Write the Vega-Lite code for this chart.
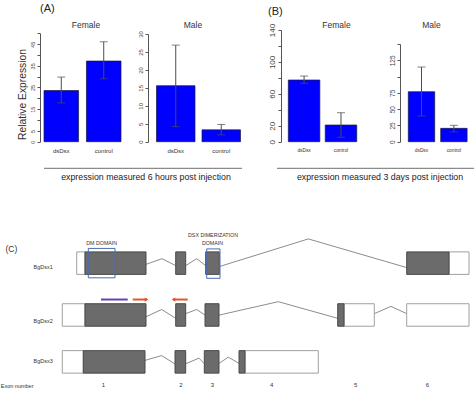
{
 "$schema": "https://vega.github.io/schema/vega-lite/v6.json",
 "background": "white",
 "autosize": "none",
 "padding": {"left": 44, "top": 30, "right": 430, "bottom": 367},
 "config": {
  "font": "Liberation Sans",
  "view": {"stroke": null},
  "title": {"fontWeight": "normal", "color": "#333", "font": "Liberation Sans"},
  "axis": {"labelFont": "Liberation Sans", "titleFont": "Liberation Sans", "labelOverlap": false, "labelSeparation": 0, "labelBound": false, "labelFlush": false}
 },
 "datasets": {
  "bars": [
   {"panel": "A-F", "treatment": "dsDsx", "mean": 23.6, "lo": 17.9, "hi": 29.8},
   {"panel": "A-F", "treatment": "control", "mean": 37.2, "lo": 29.0, "hi": 46.1},
   {"panel": "A-M", "treatment": "dsDsx", "mean": 15.6, "lo": 4.2, "hi": 26.9},
   {"panel": "A-M", "treatment": "control", "mean": 3.3, "lo": 1.9, "hi": 4.8},
   {"panel": "B-F", "treatment": "dsDsx", "mean": 77.3, "lo": 73.2, "hi": 82.3},
   {"panel": "B-F", "treatment": "control", "mean": 20.9, "lo": 5.5, "hi": 36.3},
   {"panel": "B-M", "treatment": "dsDsx", "mean": 76.8, "lo": 39.5, "hi": 114.7},
   {"panel": "B-M", "treatment": "control", "mean": 20.5, "lo": 15.0, "hi": 25.2}
  ],
  "exons": [
   {"transcript": "BgDsx1", "lane": 0, "start": 32.7, "end": 41, "kind": "UTR"},
   {"transcript": "BgDsx1", "lane": 0, "start": 405, "end": 425, "kind": "UTR"},
   {"transcript": "BgDsx2", "lane": 1.05, "start": 18.3, "end": 41, "kind": "UTR"},
   {"transcript": "BgDsx2", "lane": 1.05, "start": 300, "end": 330.3, "kind": "UTR"},
   {"transcript": "BgDsx2", "lane": 1.05, "start": 362.7, "end": 425, "kind": "UTR"},
   {"transcript": "BgDsx3", "lane": 2, "start": 18.3, "end": 39.3, "kind": "UTR"},
   {"transcript": "BgDsx3", "lane": 2, "start": 201, "end": 274.3, "kind": "UTR"},
   {"transcript": "BgDsx1", "lane": 0, "start": 41, "end": 102, "kind": "coding"},
   {"transcript": "BgDsx1", "lane": 0, "start": 131.7, "end": 141.7, "kind": "coding"},
   {"transcript": "BgDsx1", "lane": 0, "start": 161.7, "end": 175.3, "kind": "coding"},
   {"transcript": "BgDsx1", "lane": 0, "start": 362.7, "end": 405, "kind": "coding"},
   {"transcript": "BgDsx2", "lane": 1.05, "start": 41, "end": 102, "kind": "coding"},
   {"transcript": "BgDsx2", "lane": 1.05, "start": 131.7, "end": 141.7, "kind": "coding"},
   {"transcript": "BgDsx2", "lane": 1.05, "start": 161, "end": 175, "kind": "coding"},
   {"transcript": "BgDsx2", "lane": 1.05, "start": 293.7, "end": 300, "kind": "coding"},
   {"transcript": "BgDsx3", "lane": 2, "start": 39.3, "end": 101, "kind": "coding"},
   {"transcript": "BgDsx3", "lane": 2, "start": 131, "end": 141.7, "kind": "coding"},
   {"transcript": "BgDsx3", "lane": 2, "start": 160.3, "end": 175, "kind": "coding"},
   {"transcript": "BgDsx3", "lane": 2, "start": 195, "end": 201, "kind": "coding"}
  ],
  "introns": [
   {"intron": "D1-1", "pos": 102, "lane": 0.025}, {"intron": "D1-1", "pos": 118, "lane": -0.09}, {"intron": "D1-1", "pos": 131.7, "lane": 0.05},
   {"intron": "D1-2", "pos": 141.7, "lane": 0.05}, {"intron": "D1-2", "pos": 152.7, "lane": -0.09}, {"intron": "D1-2", "pos": 161.7, "lane": 0.05},
   {"intron": "D1-3", "pos": 175.3, "lane": 0.07}, {"intron": "D1-3", "pos": 264.3, "lane": -0.49}, {"intron": "D1-3", "pos": 362.7, "lane": 0.09},
   {"intron": "D2-1", "pos": 102, "lane": 1.086}, {"intron": "D2-1", "pos": 117.7, "lane": 0.939}, {"intron": "D2-1", "pos": 131.7, "lane": 1.118},
   {"intron": "D2-2", "pos": 141.7, "lane": 1.023}, {"intron": "D2-2", "pos": 152.7, "lane": 0.939}, {"intron": "D2-2", "pos": 161, "lane": 1.053},
   {"intron": "D2-3", "pos": 175, "lane": 1.053}, {"intron": "D2-3", "pos": 234.3, "lane": 0.781}, {"intron": "D2-3", "pos": 293.7, "lane": 1.118},
   {"intron": "D2-4", "pos": 330.3, "lane": 1.023}, {"intron": "D2-4", "pos": 347, "lane": 0.876}, {"intron": "D2-4", "pos": 362.7, "lane": 1.023},
   {"intron": "D3-1", "pos": 101, "lane": 1.97}, {"intron": "D3-1", "pos": 117.7, "lane": 1.872}, {"intron": "D3-1", "pos": 131, "lane": 2.044},
   {"intron": "D3-2", "pos": 141.7, "lane": 2.038}, {"intron": "D3-2", "pos": 155, "lane": 1.924}, {"intron": "D3-2", "pos": 160.3, "lane": 2.038},
   {"intron": "D3-3", "pos": 175, "lane": 2.03}, {"intron": "D3-3", "pos": 184.3, "lane": 1.905}, {"intron": "D3-3", "pos": 195, "lane": 2.03}
  ],
  "domains": [
   {"domain": "DM", "start": 44.3, "end": 71, "lane": 0},
   {"domain": "DSX dimerization", "start": 162.7, "end": 176, "lane": 0.01}
  ],
  "domainLabels": [
   {"text": "DM DOMAIN", "pos": 57.7, "lane": -0.406},
   {"text": "DSX DIMERIZATION", "pos": 169, "lane": -0.566},
   {"text": "DOMAIN", "pos": 168.5, "lane": -0.406}
  ],
  "primers": [
   {"primer": "probe", "start": 57, "end": 83.7, "lane": 0.737},
   {"primer": "forward", "start": 88.7, "end": 103, "lane": 0.737, "head": 102.5, "dir": "right"},
   {"primer": "reverse", "start": 129, "end": 143.7, "lane": 0.737, "head": 129.5, "dir": "left"}
  ],
  "exonNumbers": [
   {"exon": "1", "pos": 59.3, "lane": 2.476},
   {"exon": "2", "pos": 137, "lane": 2.476},
   {"exon": "3", "pos": 168.3, "lane": 2.476},
   {"exon": "4", "pos": 227.7, "lane": 2.476},
   {"exon": "5", "pos": 311.7, "lane": 2.476},
   {"exon": "6", "pos": 383.3, "lane": 2.476}
  ]
 },
 "bounds": "flush",
 "spacing": 198.5,
 "vconcat": [
  {
   "bounds": "flush",
   "spacing": 233,
   "hconcat": [
    {
     "bounds": "flush",
     "spacing": 0,
     "vconcat": [
      {
       "bounds": "flush",
       "spacing": 34,
       "hconcat": [
        {
         "width": 77, "height": 111.7,
         "title": {"text": "Female", "fontSize": 8.5, "baseline": "alphabetic", "frame": "group", "offset": -6.5, "dx": 3.5},
         "data": {"name": "bars"},
         "transform": [{"filter": "datum.panel == 'A-F'"}],
         "encoding": {
          "x": {"field": "treatment", "type": "nominal", "sort": ["dsDsx", "control"], "scale": {"paddingInner": 0.186, "paddingOuter": 0},
                "axis": {"title": null, "domain": false, "ticks": false, "labelAngle": 0, "labelFontSize": 6, "labelPadding": 6, "labelColor": "#333"}}
         },
         "layer": [
          {"mark": {"type": "bar", "fill": "#0000ff", "stroke": "#1a1a3a", "strokeWidth": 0.7},
           "encoding": {"y": {"field": "mean", "type": "quantitative", "title": "Relative Expression",
             "scale": {"domain": [0, 51.52], "nice": false},
             "axis": {"values": [0, 5, 10, 15, 20, 25, 30, 35, 40, 45, 50], "labelExpr": "(datum.value == 0 || datum.value % 10 == 5) ? datum.label : ''",
                      "labelAngle": -90, "labelAlign": "center", "labelBaseline": "bottom", "labelFontSize": 5.5, "labelPadding": 2, "labelColor": "#444",
                      "labelFlush": false, "labelOverlap": false, "labelBound": false, "tickSize": 3, "tickColor": "#555", "domainColor": "#555", "offset": 4, "domainDash": [108.4, 20],
                      "grid": false, "titleFontSize": 10.3, "titleFontWeight": "normal", "titleColor": "#333", "titlePadding": 3, "titleY": 64}}}},
          {"mark": {"type": "rule", "color": "#4d4d4d", "strokeWidth": 1},
           "encoding": {"y": {"field": "lo", "type": "quantitative", "title": "Relative Expression",
             "axis": {"values": [0, 5, 10, 15, 20, 25, 30, 35, 40, 45, 50], "labelExpr": "(datum.value == 0 || datum.value % 10 == 5) ? datum.label : ''",
                      "labelAngle": -90, "labelAlign": "center", "labelBaseline": "bottom", "labelFontSize": 5.5, "labelPadding": 2, "labelColor": "#444",
                      "labelFlush": false, "labelOverlap": false, "labelBound": false, "tickSize": 3, "tickColor": "#555", "domainColor": "#555", "offset": 4, "domainDash": [108.4, 20],
                      "grid": false, "titleFontSize": 10.3, "titleFontWeight": "normal", "titleColor": "#333", "titlePadding": 3, "titleY": 64}}, "y2": {"field": "hi"}}},
          {"mark": {"type": "tick", "color": "#4d4d4d", "size": 8, "thickness": 1},
           "encoding": {"y": {"field": "lo", "type": "quantitative", "title": "Relative Expression",
             "axis": {"values": [0, 5, 10, 15, 20, 25, 30, 35, 40, 45, 50], "labelExpr": "(datum.value == 0 || datum.value % 10 == 5) ? datum.label : ''",
                      "labelAngle": -90, "labelAlign": "center", "labelBaseline": "bottom", "labelFontSize": 5.5, "labelPadding": 2, "labelColor": "#444",
                      "labelFlush": false, "labelOverlap": false, "labelBound": false, "tickSize": 3, "tickColor": "#555", "domainColor": "#555", "offset": 4, "domainDash": [108.4, 20],
                      "grid": false, "titleFontSize": 10.3, "titleFontWeight": "normal", "titleColor": "#333", "titlePadding": 3, "titleY": 64}}}},
          {"mark": {"type": "tick", "color": "#4d4d4d", "size": 8, "thickness": 1},
           "encoding": {"y": {"field": "hi", "type": "quantitative", "title": "Relative Expression",
             "axis": {"values": [0, 5, 10, 15, 20, 25, 30, 35, 40, 45, 50], "labelExpr": "(datum.value == 0 || datum.value % 10 == 5) ? datum.label : ''",
                      "labelAngle": -90, "labelAlign": "center", "labelBaseline": "bottom", "labelFontSize": 5.5, "labelPadding": 2, "labelColor": "#444",
                      "labelFlush": false, "labelOverlap": false, "labelBound": false, "tickSize": 3, "tickColor": "#555", "domainColor": "#555", "offset": 4, "domainDash": [108.4, 20],
                      "grid": false, "titleFontSize": 10.3, "titleFontWeight": "normal", "titleColor": "#333", "titlePadding": 3, "titleY": 64}}}}
         ]
        },
        {
         "width": 87, "height": 111.7,
         "title": {"text": "Male", "fontSize": 8.5, "baseline": "alphabetic", "frame": "group", "offset": -6.5, "dx": -5.5},
         "data": {"name": "bars"},
         "transform": [{"filter": "datum.panel == 'A-M'"}],
         "encoding": {
          "x": {"field": "treatment", "type": "nominal", "sort": ["dsDsx", "control"], "scale": {"paddingInner": 0.154, "paddingOuter": 0.033},
                "axis": {"title": null, "domain": false, "ticks": false, "labelAngle": 0, "labelFontSize": 6, "labelPadding": 6, "labelColor": "#333"}}
         },
         "layer": [
          {"mark": {"type": "bar", "fill": "#0000ff", "stroke": "#1a1a3a", "strokeWidth": 0.7},
           "encoding": {"y": {"field": "mean", "type": "quantitative", "title": null,
             "scale": {"domain": [0, 31.11], "nice": false},
             "axis": {"values": [0, 5, 10, 15, 20, 25, 30], "labelAngle": -90, "labelAlign": "center", "labelBaseline": "bottom", "labelFontSize": 6, "labelPadding": 2, "labelColor": "#444",
                      "labelFlush": false, "labelOverlap": false, "labelBound": false, "tickSize": 3, "tickColor": "#555", "domainColor": "#555", "offset": 7, "domainDash": [107.7, 20], "grid": false}}}},
          {"mark": {"type": "rule", "color": "#4d4d4d", "strokeWidth": 1},
           "encoding": {"y": {"field": "lo", "type": "quantitative", "title": null,
             "axis": {"values": [0, 5, 10, 15, 20, 25, 30], "labelAngle": -90, "labelAlign": "center", "labelBaseline": "bottom", "labelFontSize": 6, "labelPadding": 2, "labelColor": "#444",
                      "labelFlush": false, "labelOverlap": false, "labelBound": false, "tickSize": 3, "tickColor": "#555", "domainColor": "#555", "offset": 7, "domainDash": [107.7, 20], "grid": false}}, "y2": {"field": "hi"}}},
          {"mark": {"type": "tick", "color": "#4d4d4d", "size": 8, "thickness": 1},
           "encoding": {"y": {"field": "lo", "type": "quantitative", "title": null,
             "axis": {"values": [0, 5, 10, 15, 20, 25, 30], "labelAngle": -90, "labelAlign": "center", "labelBaseline": "bottom", "labelFontSize": 6, "labelPadding": 2, "labelColor": "#444",
                      "labelFlush": false, "labelOverlap": false, "labelBound": false, "tickSize": 3, "tickColor": "#555", "domainColor": "#555", "offset": 7, "domainDash": [107.7, 20], "grid": false}}}},
          {"mark": {"type": "tick", "color": "#4d4d4d", "size": 8, "thickness": 1},
           "encoding": {"y": {"field": "hi", "type": "quantitative", "title": null,
             "axis": {"values": [0, 5, 10, 15, 20, 25, 30], "labelAngle": -90, "labelAlign": "center", "labelBaseline": "bottom", "labelFontSize": 6, "labelPadding": 2, "labelColor": "#444",
                      "labelFlush": false, "labelOverlap": false, "labelBound": false, "tickSize": 3, "tickColor": "#555", "domainColor": "#555", "offset": 7, "domainDash": [107.7, 20], "grid": false}}}}
         ]
        }
       ]
      },
      {"width": 1, "height": 111.7, "data": {"values": [{}]}, "mark": {"type": "point", "opacity": 0}, "encoding": {},
       "title": {"text": "(A)", "anchor": "start", "align": "left", "frame": "group", "orient": "top", "offset": 7, "dx": -4, "baseline": "alphabetic", "fontSize": 11, "color": "#222"}},
      {
       "width": 198, "height": 26.3,
       "data": {"values": [{}]},
       "mark": {"type": "rule", "color": "#6e6e6e", "strokeWidth": 1},
       "encoding": {"y": {"datum": 0, "type": "quantitative", "scale": {"domain": [0, 1]}, "axis": null}},
       "title": {"text": "expression measured 6 hours post injection", "orient": "bottom", "frame": "group", "fontSize": 8.8, "offset": 4, "anchor": "middle", "baseline": "top", "dx": 3, "color": "#222"}
      }
     ]
    },
    {
     "bounds": "flush",
     "spacing": 0,
     "vconcat": [
      {
       "bounds": "flush",
       "spacing": 49,
       "hconcat": [
        {
         "width": 81, "height": 111.7,
         "title": {"text": "Female", "fontSize": 8.5, "baseline": "alphabetic", "frame": "group", "offset": -13.2, "dx": 19},
         "data": {"name": "bars"},
         "transform": [{"filter": "datum.panel == 'B-F'"}],
         "encoding": {
          "x": {"field": "treatment", "type": "nominal", "sort": ["dsDsx", "control"], "scale": {"paddingInner": 0.146, "paddingOuter": 0.1705, "align": 0.9},
                "axis": {"title": null, "domain": false, "ticks": false, "labelAngle": 0, "labelFontSize": 4.8, "labelPadding": 6, "labelColor": "#333"}}
         },
         "layer": [
          {"mark": {"type": "bar", "fill": "#0000ff", "stroke": "#1a1a3a", "strokeWidth": 0.7},
           "encoding": {"y": {"field": "mean", "type": "quantitative", "title": null,
             "scale": {"domain": [0, 140], "nice": false},
             "axis": {"values": [0, 20, 40, 60, 80, 100, 120, 140], "labelExpr": "indexof([0, 20, 60, 100, 140], datum.value) >= 0 ? datum.label : ''",
                      "labelAngle": -90, "labelAlign": "center", "labelBaseline": "bottom", "labelFontSize": 8, "labelPadding": 2, "labelColor": "#444",
                      "labelFlush": false, "labelOverlap": false, "labelBound": false, "tickSize": 3, "tickColor": "#555", "domainColor": "#555", "offset": -4, "grid": false}}}},
          {"mark": {"type": "rule", "color": "#4d4d4d", "strokeWidth": 1},
           "encoding": {"y": {"field": "lo", "type": "quantitative", "title": null,
             "axis": {"values": [0, 20, 40, 60, 80, 100, 120, 140], "labelExpr": "indexof([0, 20, 60, 100, 140], datum.value) >= 0 ? datum.label : ''",
                      "labelAngle": -90, "labelAlign": "center", "labelBaseline": "bottom", "labelFontSize": 8, "labelPadding": 2, "labelColor": "#444",
                      "labelFlush": false, "labelOverlap": false, "labelBound": false, "tickSize": 3, "tickColor": "#555", "domainColor": "#555", "offset": -4, "grid": false}}, "y2": {"field": "hi"}}},
          {"mark": {"type": "tick", "color": "#4d4d4d", "size": 8, "thickness": 1},
           "encoding": {"y": {"field": "lo", "type": "quantitative", "title": null,
             "axis": {"values": [0, 20, 40, 60, 80, 100, 120, 140], "labelExpr": "indexof([0, 20, 60, 100, 140], datum.value) >= 0 ? datum.label : ''",
                      "labelAngle": -90, "labelAlign": "center", "labelBaseline": "bottom", "labelFontSize": 8, "labelPadding": 2, "labelColor": "#444",
                      "labelFlush": false, "labelOverlap": false, "labelBound": false, "tickSize": 3, "tickColor": "#555", "domainColor": "#555", "offset": -4, "grid": false}}}},
          {"mark": {"type": "tick", "color": "#4d4d4d", "size": 8, "thickness": 1},
           "encoding": {"y": {"field": "hi", "type": "quantitative", "title": null,
             "axis": {"values": [0, 20, 40, 60, 80, 100, 120, 140], "labelExpr": "indexof([0, 20, 60, 100, 140], datum.value) >= 0 ? datum.label : ''",
                      "labelAngle": -90, "labelAlign": "center", "labelBaseline": "bottom", "labelFontSize": 8, "labelPadding": 2, "labelColor": "#444",
                      "labelFlush": false, "labelOverlap": false, "labelBound": false, "tickSize": 3, "tickColor": "#555", "domainColor": "#555", "offset": -4, "grid": false}}}}
         ]
        },
        {
         "width": 61, "height": 111.7,
         "title": {"text": "Male", "fontSize": 8.5, "baseline": "alphabetic", "frame": "group", "offset": -6.5, "dx": -6},
         "data": {"name": "bars"},
         "transform": [{"filter": "datum.panel == 'B-M'"}],
         "encoding": {
          "x": {"field": "treatment", "type": "nominal", "sort": ["dsDsx", "control"], "scale": {"paddingInner": 0.185, "paddingOuter": 0.034, "align": 0.59},
                "axis": {"title": null, "domain": false, "ticks": false, "labelAngle": 0, "labelFontSize": 4.8, "labelPadding": 6, "labelColor": "#333"}}
         },
         "layer": [
          {"mark": {"type": "bar", "fill": "#0000ff", "stroke": "#1a1a3a", "strokeWidth": 0.7},
           "encoding": {"y": {"field": "mean", "type": "quantitative", "title": null,
             "scale": {"domain": [0, 171.6], "nice": false},
             "axis": {"values": [0, 25, 50, 75, 100, 125, 150], "labelExpr": "indexof([0, 25, 50, 75, 125], datum.value) >= 0 ? datum.label : ''",
                      "labelAngle": -90, "labelAlign": "center", "labelBaseline": "bottom", "labelFontSize": 6.5, "labelPadding": 2, "labelColor": "#444",
                      "labelFlush": false, "labelOverlap": false, "labelBound": false, "tickSize": 3, "tickColor": "#555", "domainColor": "#555", "offset": 7, "domainDash": [97.7, 30], "grid": false}}}},
          {"mark": {"type": "rule", "color": "#4d4d4d", "strokeWidth": 1},
           "encoding": {"y": {"field": "lo", "type": "quantitative", "title": null,
             "axis": {"values": [0, 25, 50, 75, 100, 125, 150], "labelExpr": "indexof([0, 25, 50, 75, 125], datum.value) >= 0 ? datum.label : ''",
                      "labelAngle": -90, "labelAlign": "center", "labelBaseline": "bottom", "labelFontSize": 6.5, "labelPadding": 2, "labelColor": "#444",
                      "labelFlush": false, "labelOverlap": false, "labelBound": false, "tickSize": 3, "tickColor": "#555", "domainColor": "#555", "offset": 7, "domainDash": [97.7, 30], "grid": false}}, "y2": {"field": "hi"}}},
          {"mark": {"type": "tick", "color": "#4d4d4d", "size": 8, "thickness": 1},
           "encoding": {"y": {"field": "lo", "type": "quantitative", "title": null,
             "axis": {"values": [0, 25, 50, 75, 100, 125, 150], "labelExpr": "indexof([0, 25, 50, 75, 125], datum.value) >= 0 ? datum.label : ''",
                      "labelAngle": -90, "labelAlign": "center", "labelBaseline": "bottom", "labelFontSize": 6.5, "labelPadding": 2, "labelColor": "#444",
                      "labelFlush": false, "labelOverlap": false, "labelBound": false, "tickSize": 3, "tickColor": "#555", "domainColor": "#555", "offset": 7, "domainDash": [97.7, 30], "grid": false}}}},
          {"mark": {"type": "tick", "color": "#4d4d4d", "size": 8, "thickness": 1},
           "encoding": {"y": {"field": "hi", "type": "quantitative", "title": null,
             "axis": {"values": [0, 25, 50, 75, 100, 125, 150], "labelExpr": "indexof([0, 25, 50, 75, 125], datum.value) >= 0 ? datum.label : ''",
                      "labelAngle": -90, "labelAlign": "center", "labelBaseline": "bottom", "labelFontSize": 6.5, "labelPadding": 2, "labelColor": "#444",
                      "labelFlush": false, "labelOverlap": false, "labelBound": false, "tickSize": 3, "tickColor": "#555", "domainColor": "#555", "offset": 7, "domainDash": [97.7, 30], "grid": false}}}}
         ]
        }
       ]
      },
      {"width": 1, "height": 111.7, "data": {"values": [{}]}, "mark": {"type": "point", "opacity": 0}, "encoding": {},
       "title": {"text": "(B)", "anchor": "start", "align": "left", "frame": "group", "orient": "top", "offset": 4, "dx": -9, "baseline": "alphabetic", "fontSize": 11, "color": "#222"}},
      {
       "width": 197, "height": 26.3,
       "data": {"values": [{}]},
       "mark": {"type": "rule", "color": "#6e6e6e", "strokeWidth": 1},
       "encoding": {"y": {"datum": 0, "type": "quantitative", "scale": {"domain": [0, 1]}, "axis": null}},
       "title": {"text": "expression measured 3 days post injection", "orient": "bottom", "frame": "group", "fontSize": 8.8, "offset": 4, "anchor": "middle", "baseline": "top", "dx": 4.5, "color": "#222"}
      }
     ]
    }
   ]
  },
  {
   "width": 430, "height": 168,
   "encoding": {
    "y": {"field": "lane", "type": "quantitative", "title": "(C)",
     "scale": {"domain": [-0.6, 2.6], "reverse": true, "nice": false, "zero": false},
     "axis": {"values": [0.07, 1.168, 1.968, 2.476],
              "labelExpr": "datum.value < 0.5 ? 'BgDsx1' : datum.value < 1.5 ? 'BgDsx2' : datum.value < 2.3 ? 'BgDsx3' : 'Exon number'",
              "domain": false, "ticks": false, "tickSize": 0, "grid": false, "labelPadding": 11,
              "labelAlign": {"condition": {"test": "datum.value > 2.3", "value": "right"}, "value": "left"},
              "labelBaseline": "middle", "labelFontSize": 5.5, "labelColor": "#333",
              "titleAngle": 0, "titleAlign": "left", "titleBaseline": "middle", "titleX": -39, "titleY": 19.5,
              "titleFontSize": 8.5, "titleFontWeight": "normal", "titleColor": "#333"}}
   },
   "layer": [
    {"data": {"name": "introns"},
     "mark": {"type": "line", "color": "#8c8c8c", "strokeWidth": 1},
     "encoding": {"x": {"field": "pos", "type": "quantitative", "scale": {"domain": [0, 430], "nice": false, "zero": false}, "axis": null},
                  "detail": {"field": "intron", "type": "nominal"}}},
    {"data": {"name": "exons"},
     "mark": {"type": "bar", "height": 22.5, "strokeWidth": 1},
     "encoding": {"x": {"field": "start", "type": "quantitative", "axis": null}, "x2": {"field": "end"},
                  "fill": {"field": "kind", "type": "nominal", "scale": {"domain": ["coding", "UTR"], "range": ["#6b6b6b", "#ffffff"]}, "legend": null},
                  "stroke": {"field": "kind", "type": "nominal", "scale": {"domain": ["coding", "UTR"], "range": ["#4a4a4a", "#a0a0a0"]}, "legend": null}}},
    {"data": {"name": "domains"},
     "mark": {"type": "bar", "height": 29.4, "fillOpacity": 0, "stroke": "#4a6bb5", "strokeWidth": 1},
     "encoding": {"x": {"field": "start", "type": "quantitative", "axis": null}, "x2": {"field": "end"}}},
    {"data": {"name": "domainLabels"},
     "mark": {"type": "text", "fontSize": 5.3, "color": "#333", "baseline": "middle"},
     "encoding": {"x": {"field": "pos", "type": "quantitative", "axis": null}, "text": {"field": "text"}}},
    {"data": {"name": "primers"},
     "mark": {"type": "rule", "strokeWidth": 2},
     "encoding": {"x": {"field": "start", "type": "quantitative", "axis": null}, "x2": {"field": "end"},
                  "color": {"field": "primer", "type": "nominal", "scale": {"domain": ["probe", "forward", "reverse"], "range": ["#6a3fb0", "#e5552d", "#e5552d"]}, "legend": null}}},
    {"data": {"name": "primers"},
     "transform": [{"filter": "datum.head != null"}],
     "mark": {"type": "point", "filled": true, "size": 18, "color": "#e5552d", "opacity": 1},
     "encoding": {"x": {"field": "head", "type": "quantitative", "axis": null},
                  "shape": {"field": "dir", "type": "nominal", "scale": {"domain": ["right", "left"], "range": ["triangle-right", "triangle-left"]}, "legend": null}}},
    {"data": {"name": "exonNumbers"},
     "mark": {"type": "text", "fontSize": 6, "color": "#333", "baseline": "middle"},
     "encoding": {"x": {"field": "pos", "type": "quantitative", "axis": null}, "text": {"field": "exon"}}}
   ]
  }
 ]
}
